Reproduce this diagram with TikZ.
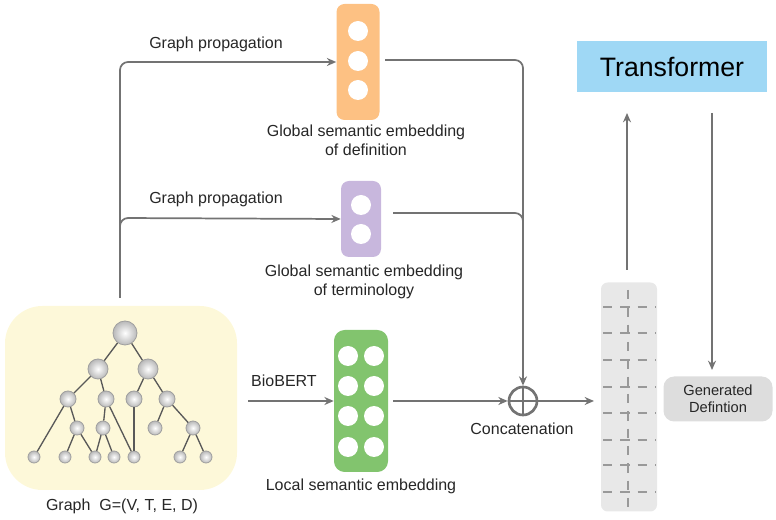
\documentclass[tikz,border=0pt]{standalone}
\usepackage{fontspec}
\setmainfont{Liberation Sans}
\usetikzlibrary{arrows.meta}
\definecolor{lav}{HTML}{C8B7DD}
\definecolor{org}{HTML}{FDC183}
\definecolor{grn}{HTML}{82C46E}
\definecolor{blu}{HTML}{9FD8F5}
\definecolor{ylw}{HTML}{FDF8D9}
\begin{document}
\begin{tikzpicture}[x=0.75pt,y=-0.75pt,
  conn/.style={draw=gray!90!black,line width=1.3pt,rounded corners=6pt},
  arr/.style={conn,-{Stealth[length=7pt,width=6pt]}},
  lbl/.style={font=\fontsize{12}{14.5}\selectfont,text=black!85,align=center},
  dot/.style={circle,fill=white,minimum size=15pt,inner sep=0pt},
  tn/.style={circle,inner color=white,outer color=gray!55,draw=gray!75,line width=0.6pt,inner sep=0pt},
  te/.style={draw=gray!70!black,line width=1pt}]
\useasboundingbox (0,0) rectangle (776,520);
% graph background
\node[fill=ylw,rounded corners=28pt,minimum width=232*0.75pt,minimum height=184*0.75pt] (gbg) at (121,398) {};
% tree
\foreach \n/\x/\y/\r in {r/125/333/12, a/98/369/10, b/148/369/10,
  c/68/399/8, d/106/399/8, e/134/399/8, f/167/399/8,
  g/77/428/7, h/103/428/7, i/155/428/7, j/193/428/7,
  k/34/457/6, l/65/457/6, m/95/457/6, n/114/457/6, o/134/457/6, p/180/457/6, q/206/457/6}
  \node[tn,minimum size=2*\r*0.75pt] (t\n) at (\x,\y) {};
\foreach \u/\v in {r/a,r/b,a/c,a/d,b/e,b/f,c/k,c/g,g/l,g/m,d/h,d/o,h/m,h/n,e/o,f/i,f/j,j/p,j/q}
  \draw[te] (t\u) -- (t\v);
\node[lbl] (glab) at (122,506) {Graph\ \ G=(V, T, E, D)};
% embeddings
\node[fill=org,rounded corners=6pt,minimum width=43*0.75pt,minimum height=116*0.75pt] (ob) at (358,62) {};
\foreach \i/\y in {1/31,2/61,3/90} \node[dot] (od\i) at (358,\y) {};
\node[lbl] (olab) at (366,140) {Global semantic embedding\\of definition};
\node[fill=lav,rounded corners=6pt,minimum width=40*0.75pt,minimum height=76*0.75pt] (pb) at (361,219) {};
\foreach \i/\y in {1/205,2/234} \node[dot] (pd\i) at (361,\y) {};
\node[lbl] (plab) at (364,282) {Global semantic embedding\\of terminology};
\node[fill=grn,rounded corners=8pt,minimum width=54*0.75pt,minimum height=142*0.75pt] (gb) at (361,401) {};
\foreach \i/\y in {1/356,2/386,3/416,4/447}{
  \node[dot] (gl\i) at (348,\y) {};
  \node[dot] (gr\i) at (374,\y) {};}
\node[lbl] (llab) at (361,486) {Local semantic embedding};
% concat
\node[circle,draw=gray!90!black,line width=2pt,minimum size=28*0.75pt,inner sep=0pt] (cc) at (523,401) {};
\draw[gray!90!black,line width=2pt] (cc.north) -- (cc.south) (cc.west) -- (cc.east);
\node[lbl] (clab) at (522,429) {Concatenation};
% column
\node[fill=gray!18,rounded corners=5pt,minimum width=56*0.75pt,minimum height=229*0.75pt] (col) at (629,397) {};
\draw[gray!80,line width=0.8pt,dash pattern=on 7pt off 6pt] (628,290) -- (628,510);
\foreach \y in {307,333,360,387,413,440,465,492}
  \draw[gray!80,line width=0.8pt,dash pattern=on 7pt off 6pt] (603,\y) -- (656,\y);
% transformer
\node[fill=blu,minimum width=190*0.75pt,minimum height=51*0.75pt] (tr) at (672,67) {\fontsize{20}{24}\selectfont Transformer};
\node[fill=gray!27,rounded corners=8pt,minimum width=109*0.75pt,minimum height=45*0.75pt,lbl,font=\fontsize{11}{13}\selectfont] (gd) at (718,399) {Generated\\Defintion};
% connectors
\coordinate (s) at (120,298);
\coordinate (j) at (523,240);
\draw[arr] (s) -- (120,62) -- (ob.west);
\draw[arr] (120,240) -- (120,218) -- (pb.west);
\node[lbl] (gp1) at (216,44) {Graph propagation};
\node[lbl] (gp2) at (216,199) {Graph propagation};
\draw[conn] (385,60) -- (523,60) -- (j);
\draw[conn] (393,213) -- (523,213) -- (j);
\draw[arr] (j) -- (cc.north);
\draw[arr] (248,401) -- (gb.west);
\node[lbl] (bb) at (284,381) {BioBERT};
\draw[arr] (393,401) -- (cc.west);
\draw[arr] (cc.east) -- (594,401);
\draw[arr] (627,270) -- (627,113);
\draw[arr] (712,113) -- (712,370);
\end{tikzpicture}
\end{document}
